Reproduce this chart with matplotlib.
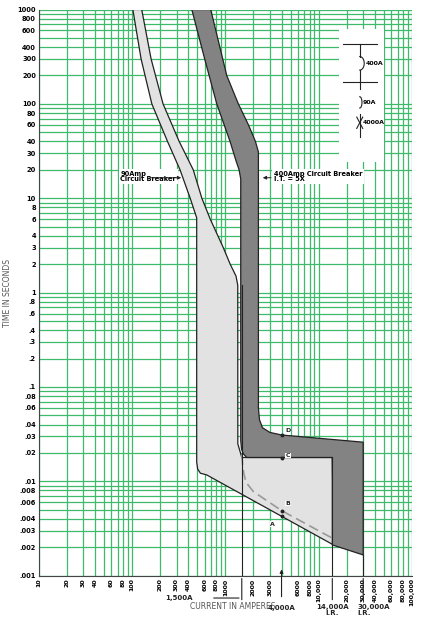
import matplotlib
matplotlib.use("Agg")
import matplotlib.pyplot as plt
import numpy as np
from matplotlib.patches import Polygon, Rectangle

# 90A breaker band (light)
cb90_left_x = [102, 125, 163, 240, 327, 420, 493, 493, 505, 540, 631, 14400]
cb90_left_y = [1000, 300, 100, 40, 20, 10, 6.2, 0.016, 0.0135, 0.0122, 0.0117, 0.00212]
cb90_right_x = [127, 160, 215, 320, 453, 560, 689, 950, 1127, 1300, 1358, 1360, 1500, 14000]
cb90_right_y = [1000, 300, 100, 40, 20, 10, 6, 3, 2, 1.5, 1.2, 0.025, 0.0179, 0.0179]

# 400A breaker band (dark)
cb400_left_x = [437, 600, 809, 1123, 1300, 1403, 1462, 1462, 1490, 1560, 1700, 14000, 14000, 30000]
cb400_left_y = [1000, 300, 100, 40, 25, 20, 16, 0.027, 0.022, 0.0195, 0.0179, 0.0179, 0.00212, 0.00166]
cb400_right_x = [697, 1035, 1378, 1767, 2100, 2260, 2260, 2320, 2500, 3000, 4000, 30000]
cb400_right_y = [1000, 200, 100, 60, 40, 31, 0.06, 0.045, 0.037, 0.033, 0.031, 0.026]

# dashed let-through curve
dash_x = [1500, 1530, 1580, 1660, 1995, 4000, 14000]
dash_y = [0.019, 0.015, 0.012, 0.0098, 0.0078, 0.0049, 0.0025]

points = {"A": (4000, 0.0043), "B": (4000, 0.0049), "C": (4000, 0.0175), "D": (4000, 0.031)}

xtick_vals = [10, 20, 30, 40, 60, 80, 100, 200, 300, 400, 600, 800, 1000, 2000, 3000,
              6000, 8000, 10000, 20000, 30000, 40000, 60000, 80000, 100000]
xtick_labels = ["10", "20", "30", "40", "60", "80", "100", "200", "300", "400", "600", "800", "1000",
                "2000", "3000", "6000", "8000", "10,000", "20,000", "30,000", "40,000", "60,000",
                "80,000", "100,000"]
ytick_vals = [1000, 800, 600, 400, 300, 200, 100, 80, 60, 40, 30, 20, 10, 8, 6, 4, 3, 2, 1, .8, .6,
              .4, .3, .2, .1, .08, .06, .04, .03, .02, .01, .008, .006, .004, .003, .002, .001]
ytick_labels = ["1000", "800", "600", "400", "300", "200", "100", "80", "60", "40", "30", "20", "10",
                "8", "6", "4", "3", "2", "1", ".8", ".6", ".4", ".3", ".2", ".1", ".08", ".06", ".04",
                ".03", ".02", ".01", ".008", ".006", ".004", ".003", ".002", ".001"]

fig = plt.figure(figsize=(4.24, 6.27), dpi=100)
ax = fig.add_axes([0.0913, 0.0818, 0.8804, 0.903])
ax.set_xscale("log"); ax.set_yscale("log")
ax.set_xlim(10, 100000); ax.set_ylim(0.001, 1000)

green = "#3dba6a"
ax.set_xticks(xtick_vals); ax.set_xticklabels(xtick_labels, rotation=90, fontsize=4.5, fontweight="bold")
ax.set_yticks(ytick_vals); ax.set_yticklabels(ytick_labels, fontsize=4.8, fontweight="bold")
ax.minorticks_on()
ax.tick_params(which="both", length=0, pad=2)
ax.tick_params(which="minor", labelleft=False, labelbottom=False)
ax.grid(True, which="major", color=green, lw=0.9)
ax.grid(True, which="minor", color=green, lw=0.9)
ax.set_axisbelow(True)
for s in ax.spines.values():
    s.set_visible(False)
ax.spines["left"].set_visible(True); ax.spines["bottom"].set_visible(True)
ax.spines["left"].set_color("#444"); ax.spines["bottom"].set_color("#444")
ax.set_ylabel("TIME IN SECONDS", fontsize=5.5, color="#555")

light = list(zip(cb90_left_x, cb90_left_y)) + list(zip(cb90_right_x, cb90_right_y))[::-1]
ax.add_patch(Polygon(light, closed=True, fc="#e2e2e2", ec="#222", lw=0.9, zorder=2))
dark = list(zip(cb400_left_x, cb400_left_y)) + list(zip(cb400_right_x, cb400_right_y))[::-1]
ax.add_patch(Polygon(dark, closed=True, fc="#838383", ec="#222", lw=0.9, zorder=3))
ax.plot(dash_x, dash_y, ls=(0, (6, 3)), color="#999", lw=1.2, zorder=4)

for k, (px, py) in points.items():
    ax.plot(px, py, "o", ms=1.8, color="#222", zorder=5)
    off = {"A": (-8, -7), "B": (3, 4), "C": (3, 1), "D": (3, 2)}[k]
    ax.annotate(k, (px, py), xytext=off, textcoords="offset points", fontsize=4.5,
                fontweight="bold", color="#222", zorder=6,
                bbox=dict(fc="white", ec="none", pad=0.3))

# vertical reference lines below axis
for xv, yb in [(1500, 1.2), (14000, 0.0179), (30000, 0.00166)]:
    ax.plot([xv, xv], [yb, 0.001], color="#222", lw=0.8, zorder=4)
    ax.annotate("", xy=(xv, 0.001), xytext=(xv, 0.00052), xycoords="data",
                arrowprops=dict(arrowstyle="-", color="#222", lw=0.8), annotation_clip=False)
ax.annotate("", xy=(4000, 0.00125), xytext=(4000, 0.00056),
            arrowprops=dict(arrowstyle="-|>", color="#222", lw=0.8, mutation_scale=5), annotation_clip=False)
ax.annotate("", xy=(1500, 0.00058), xytext=(700, 0.00058),
            arrowprops=dict(arrowstyle="-", color="#222", lw=0.8), annotation_clip=False)
ax.text(450, 0.00058, "1,500A", fontsize=5, fontweight="bold", ha="right", va="center", color="#222")
ax.text(1200, 0.00047, "CURRENT IN AMPERES", fontsize=5.5, ha="center", va="center", color="#555")
ax.text(4000, 0.00046, "4,000A", fontsize=5, fontweight="bold", ha="center", va="center", color="#222")
ax.text(14000, 0.0005, "14,000A\nI.R.", fontsize=5, fontweight="bold", ha="center", va="top",
        color="#222", linespacing=1.0)
ax.text(26000, 0.0005, "30,000A\nI.R.", fontsize=5, fontweight="bold", ha="left", va="top",
        color="#222", linespacing=1.0)

# labels with arrows
ax.text(75, 17, "90Amp\nCircuit Breaker", fontsize=4.8, fontweight="bold", va="center",
        linespacing=0.9, bbox=dict(fc="white", ec="none", pad=1), zorder=6)
ax.annotate("", xy=(360, 16.5), xytext=(150, 16.5),
            arrowprops=dict(arrowstyle="-|>", color="#222", lw=0.7, mutation_scale=5), zorder=6)
ax.text(3300, 17, "400Amp Circuit Breaker\nI.T. = 5X", fontsize=4.8, fontweight="bold", va="center",
        linespacing=0.9, bbox=dict(fc="white", ec="none", pad=1), zorder=6)
ax.annotate("", xy=(2350, 16.5), xytext=(3300, 16.5),
            arrowprops=dict(arrowstyle="-|>", color="#222", lw=0.7, mutation_scale=5), zorder=6)

# schematic legend (axes fraction coords)
T = ax.transAxes
ax.add_patch(Rectangle((0.805, 0.73), 0.12, 0.235, transform=T, fc="white", ec="none", zorder=6))
kw = dict(transform=T, color="#222", lw=0.8, zorder=7)
ax.plot([0.815, 0.905], [0.94, 0.94], **kw)
ax.plot([0.815, 0.905], [0.872, 0.872], **kw)
ax.plot([0.86, 0.86], [0.94, 0.917], **kw)
th = np.linspace(-np.pi / 2, np.pi / 2, 30)
ax.plot(0.86 + 0.012 * np.cos(th), 0.905 + 0.012 * np.sin(th), **kw)
ax.plot([0.86, 0.86], [0.893, 0.86], **kw)
ax.plot(0.86 + 0.006 * np.cos(th), 0.836 + 0.01 * np.sin(th), **kw)
ax.plot([0.86, 0.86], [0.815, 0.775], **kw)
ax.plot([0.852, 0.868], [0.81, 0.79], **kw)
ax.plot([0.852, 0.868], [0.79, 0.81], **kw)
ax.text(0.875, 0.905, "400A", transform=T, fontsize=4.5, fontweight="bold", va="center", zorder=7)
ax.text(0.868, 0.836, "90A", transform=T, fontsize=4.5, fontweight="bold", va="center", zorder=7)
ax.text(0.868, 0.8, "4000A", transform=T, fontsize=4.5, fontweight="bold", va="center", zorder=7)

fig.savefig("out.png", dpi=100)
